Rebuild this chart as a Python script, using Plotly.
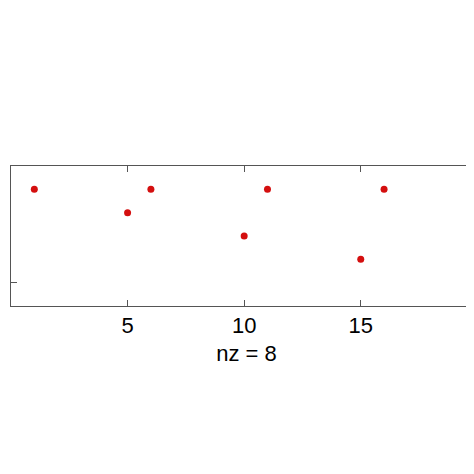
import plotly.graph_objects as go

cols = [1, 5, 6, 10, 11, 15, 16, 20]
rows = [1, 2, 1, 3, 1, 4, 1, 5]
xticks = [0, 5, 10, 15, 20]
yticks = [0, 5]

fig = go.Figure(go.Scatter(x=cols, y=rows, mode="markers",
                           marker=dict(color="#d40f0f", size=7), cliponaxis=False))
fig.update_layout(
    width=474, height=474, plot_bgcolor="white", paper_bgcolor="white",
    margin=dict(l=3, r=0, t=158, b=176), showlegend=False,
    font=dict(family="Liberation Sans, Arial", size=22, color="black"),
)
fig.update_xaxes(range=[0, 20.2], tickvals=xticks, ticks="inside", ticklen=6,
                 tickcolor="#555", showline=True, linecolor="#555", mirror="ticks",
                 showgrid=False, zeroline=False, automargin=False,
                 title=dict(text="nz = 8", font=dict(size=22), standoff=8))
fig.update_yaxes(range=[6, 0], tickvals=yticks, ticks="inside", ticklen=6,
                 tickcolor="#555", showline=True, linecolor="#555", mirror="ticks",
                 showgrid=False, zeroline=False, showticklabels=False, automargin=False)
fig.write_html("out.html")
